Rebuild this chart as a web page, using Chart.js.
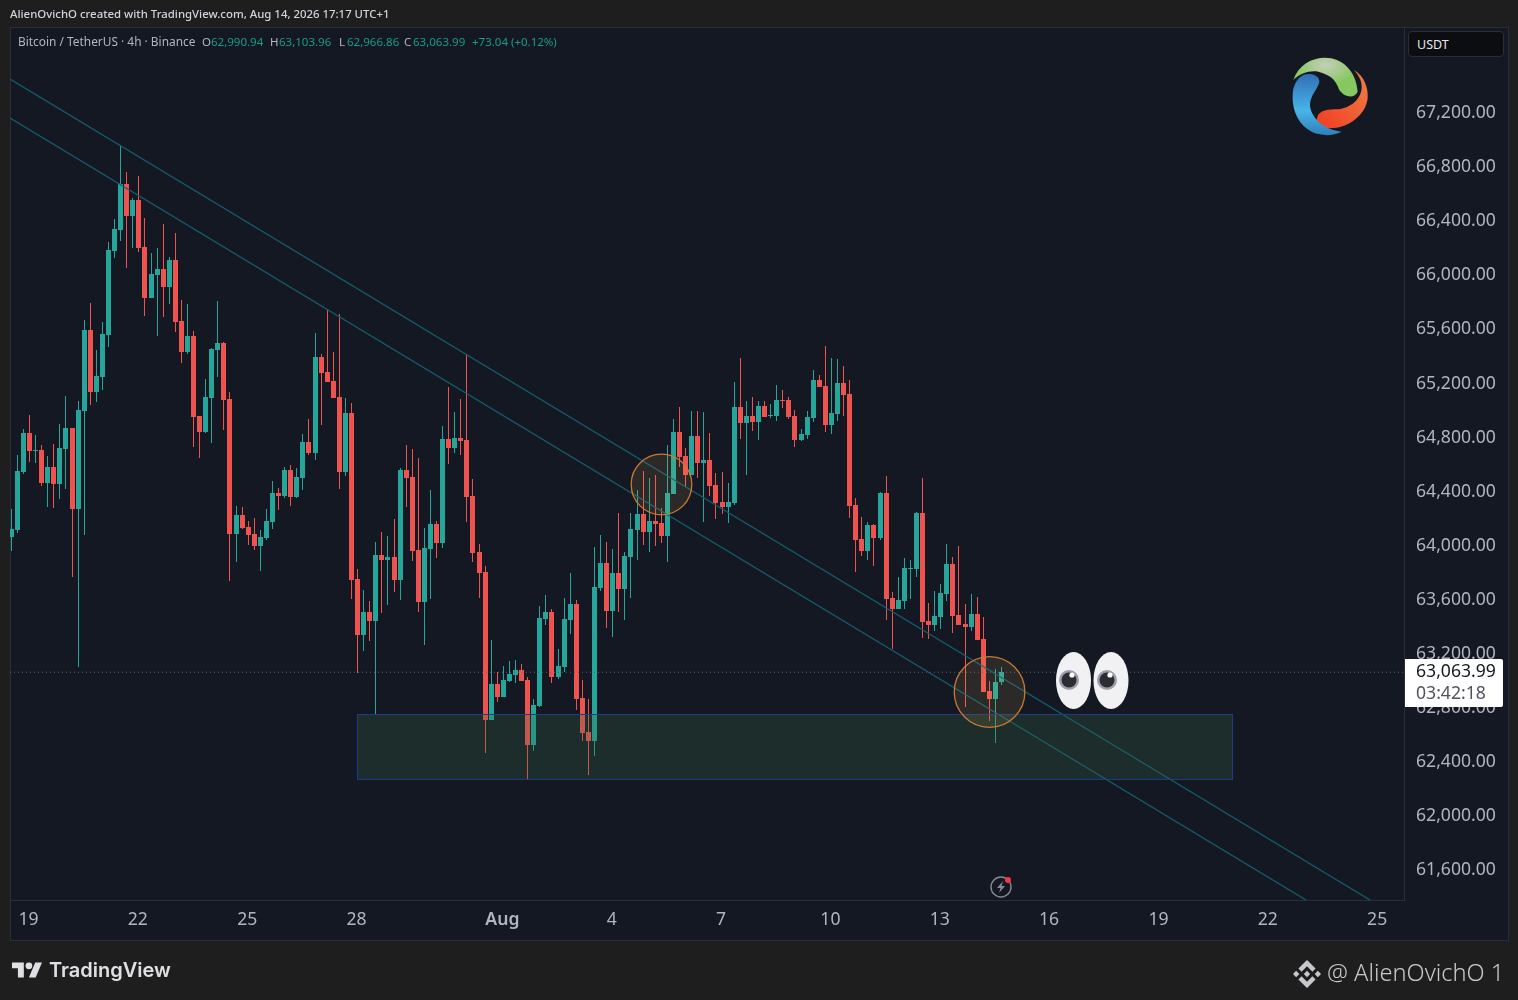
<!DOCTYPE html>
<html lang="en">
<head>
<meta charset="UTF-8">
<title>Bitcoin / TetherUS 4h</title>
<script src="https://cdn.jsdelivr.net/npm/chart.js"></script>
<style>
    html, body { margin: 0; padding: 0; background: #1e1e1e; width: 1518px; height: 1000px; overflow: hidden; }
    body { position: relative; font-family: "Noto Sans", sans-serif; }
    #pane { position: absolute; left: 10px; top: 27px; width: 1497px; height: 912px; background: #141823; border: 1px solid #2a2e39; }
    canvas { position: absolute; left: 0; top: 0; }
    .t { position: absolute; white-space: nowrap; line-height: 1; }
    .gray { color: #b2b5be; }
    .teal { color: #1a9c8a; }
    svg.ov { position: absolute; }
</style>
</head>
<body>
<div id="pane"></div>
<canvas id="chart" width="1518" height="1000"></canvas>

<div class="t" style="left:10px;top:8px;font-size:11.4px;font-weight:500;color:#d1d4dc">AlienOvichO created with TradingView.com, Aug 14, 2026 17:17 UTC+1</div>

<div class="t gray" style="left:18px;top:36px;font-size:11.9px">Bitcoin / TetherUS · 4h · Binance</div>
<div class="t gray" style="left:202px;top:36px;font-size:11.5px">O</div>
<div class="t teal" style="left:211px;top:36px;font-size:11.5px">62,990.94</div>
<div class="t gray" style="left:270px;top:36px;font-size:11.5px">H</div>
<div class="t teal" style="left:279px;top:36px;font-size:11.5px">63,103.96</div>
<div class="t gray" style="left:339px;top:36px;font-size:11.5px">L</div>
<div class="t teal" style="left:347px;top:36px;font-size:11.5px">62,966.86</div>
<div class="t gray" style="left:404px;top:36px;font-size:11.5px">C</div>
<div class="t teal" style="left:413px;top:36px;font-size:11.5px">63,063.99</div>
<div class="t teal" style="left:472px;top:36px;font-size:11.5px">+73.04 (+0.12%)</div>

<div style="position:absolute;left:1408px;top:31px;width:94px;height:24px;background:#0c0d10;border:1px solid #2a2e39;border-radius:4px"></div>
<div class="t" style="left:1417px;top:39px;font-size:12.5px;color:#e6e7ea">USDT</div>

<div style="position:absolute;left:1405px;top:659px;width:98px;height:48px;background:#fff;border-radius:0 2px 2px 0"></div>
<div class="t" style="left:1416px;top:662px;font-size:17.6px;color:#131722">63,063.99</div>
<div class="t" style="left:1416px;top:684px;font-size:17.6px;color:#50535e">03:42:18</div>

<!-- logo -->
<svg class="ov" style="left:1280px;top:20px" width="238" height="130" viewBox="0 0 714 390">
    <defs>
        <linearGradient id="gOr" x1="0" y1="1" x2="1" y2="0"><stop offset="0" stop-color="#f23c20"/><stop offset="1" stop-color="#ee8048"/></linearGradient>
        <linearGradient id="gBl" x1="0" y1="0" x2="0" y2="1"><stop offset="0" stop-color="#2f6fb8"/><stop offset="0.6" stop-color="#49b4e6"/><stop offset="1" stop-color="#2f7fb8"/></linearGradient>
        <radialGradient id="gGr" cx="0.5" cy="0.2" r="0.5"><stop offset="0" stop-color="#c4cfb8"/><stop offset="1" stop-color="#86c860"/></radialGradient>
    </defs>
    <path fill="url(#gGr)" d="M40 180 C55 135 95 113 135 113 C185 113 228 150 233 215 C225 235 195 235 178 210 C165 175 150 165 115 155 C90 150 60 160 40 180Z"/>
    <path fill="url(#gOr)" d="M222 150 C255 170 265 205 263 235 C258 285 205 325 150 325 C125 325 105 310 112 290 C120 270 145 268 175 268 C215 262 245 235 245 200 C245 180 235 165 222 150Z"/>
    <path fill="url(#gBl)" d="M70 165 C90 158 118 165 118 185 C115 205 90 225 90 255 C92 295 135 330 185 335 C165 345 140 348 120 343 C70 335 35 285 38 225 C38 200 50 175 70 165Z"/>
</svg>

<!-- eyes -->
<svg class="ov" style="left:1050px;top:645px" width="85" height="70" viewBox="1050 645 85 70">
    <ellipse cx="1073.5" cy="680.5" rx="17.5" ry="28.5" fill="#f1f1f4"/>
    <ellipse cx="1111" cy="680.5" rx="17.5" ry="28.5" fill="#f1f1f4"/>
    <circle cx="1069" cy="680" r="10" fill="#9c9cab"/>
    <circle cx="1069" cy="680" r="7.5" fill="#2b2d33"/>
    <circle cx="1072" cy="675" r="2.6" fill="#fff"/>
    <circle cx="1107" cy="680" r="10" fill="#9c9cab"/>
    <circle cx="1107" cy="680" r="7.5" fill="#2b2d33"/>
    <circle cx="1110" cy="675" r="2.6" fill="#fff"/>
</svg>

<!-- lightning badge -->
<svg class="ov" style="left:985px;top:872px" width="30" height="30" viewBox="985 872 30 30">
    <circle cx="1001" cy="887" r="10" fill="none" stroke="#868993" stroke-width="1.4"/>
    <path d="M1003 881 L997 888 L1000.5 888 L999 893 L1005 886 L1001.5 886 Z" fill="#868993"/>
    <circle cx="1008" cy="880" r="3" fill="#f23645"/>
</svg>

<!-- footer -->
<svg class="ov" style="left:12px;top:958.6px" width="30" height="23.7" viewBox="0 0 35.5 28">
    <path fill="#e0e0e4" d="M14 22H7V11H0V4h14v18zM28 22h-8l7.5-18h8L28 22z"/>
    <circle cx="20" cy="8" r="4" fill="#e0e0e4"/>
</svg>
<div class="t" style="left:49px;top:960px;font-family:Inter,sans-serif;font-size:20px;font-weight:600;color:#e0e0e4">TradingView</div>

<svg class="ov" style="left:1293px;top:960px" width="28" height="28" viewBox="0 0 32 32">
    <path fill="#c8c8cc" d="M9.8 13.4 16 7.2l6.2 6.2 3.6-3.6L16 0 6.2 9.8zM0 16l3.6-3.6L7.2 16l-3.6 3.6zM9.8 18.6 16 24.8l6.2-6.2 3.6 3.6L16 32l-9.8-9.8zM24.8 16l3.6-3.6L32 16l-3.6 3.6zM19.6 16 16 12.4 12.4 16 16 19.6z"/>
</svg>
<div class="t" style="left:1327px;top:961px;font-size:23.6px;font-weight:300;color:#c8c8cc">@ AlienOvichO 1</div>

<script>
// 4h candles
const opens = [
    64064,64116,64545,64834,64701,64708,64464,64582,64456,64715,
    64871,64271,64997,65596,65137,65248,65559,66181,66336,66675,
    66440,66558,66210,65833,66003,66047,65914,66114,65663,65433,
    65552,64960,64841,65093,65448,65500,65085,64086,64227,64138,
    64086,63998,64057,64175,64390,64368,64560,64361,64501,64767,
    64686,65396,65285,65219,65100,64545,64982,63753,63340,63510,
    63443,63931,63894,63916,63746,64560,64508,63968,63583,63975,
    64160,64020,64789,64723,64797,64782,64368,63953,63806,62711,
    62978,62881,63000,63044,63081,63007,62526,62815,63458,63510,
    63029,63103,63451,63569,62874,62622,62555,63687,63872,63517,
    63798,63680,63916,64116,64234,64101,64183,64168,64072,64382,
    64841,64664,64523,64812,64612,64634,64449,64323,64286,64316,
    65026,64908,64960,64915,65034,64960,64960,65078,65078,64960,
    64782,64819,64945,65226,65181,64893,64975,65204,65122,64301,
    64049,63961,64153,64057,64390,63613,63532,63591,63828,63828,
    64242,63443,63414,63473,63643,63865,63487,63421,63399,63495,
    63310,62925,62866,62990.94
];
const closes = [
    64123,64553,64834,64701,64708,64464,64582,64456,64723,64871,
    64271,65004,65596,65137,65256,65566,66188,66343,66675,66440,
    66558,66203,65833,66010,66047,65914,66114,65655,65433,65552,
    64952,64841,65100,65456,65500,65078,64086,64227,64131,64079,
    63998,64064,64183,64390,64368,64560,64361,64508,64767,64686,
    65396,65278,65211,65093,64545,64982,63746,63340,63510,63443,
    63931,63894,63916,63746,64560,64501,63961,63583,63983,64160,
    64020,64789,64723,64797,64775,64361,63946,63798,62711,62978,
    62881,63007,63051,63081,63000,62526,62822,63465,63510,63029,
    63111,63458,63569,62866,62615,62555,63694,63872,63517,63798,
    63680,63924,64123,64234,64101,64183,64160,64072,64390,64841,
    64656,64523,64812,64612,64634,64442,64316,64286,64323,65026,
    64908,64960,64915,65034,64952,64967,65078,65071,64952,64782,
    64826,64952,65226,65174,64893,64982,65204,65115,64294,64042,
    63961,64153,64057,64390,63605,63532,63598,63835,63835,64242,
    63436,63414,63480,63650,63865,63480,63414,63399,63495,63303,
    62918,62866,62992,63063.99
];
const highs = [
    64271,64671,64863,64967,64819,64745,64664,64752,64900,65108,
    64871,65071,65670,65796,65448,65655,66247,66417,66957,66764,
    66572,66735,66425,66166,66203,66380,66136,66314,65818,65788,
    65589,64960,65233,65463,65811,65507,65137,64294,64286,64183,
    64205,64116,64271,64479,64427,64582,64597,64575,64826,64937,
    65574,65418,65744,65433,65715,65093,65056,63827,63672,63591,
    64027,64101,64072,64197,64575,64745,64715,64649,64131,64412,
    64183,64886,65174,64989,65085,65411,64493,64013,63850,63303,
    63066,63110,63147,63155,63125,63029,62866,63554,63635,63532,
    63236,63613,63798,63598,63007,62866,63990,64079,64027,63975,
    64242,63953,64242,64412,64553,64501,64523,64279,64745,64937,
    65026,64723,64997,64997,64989,64834,64538,64545,64464,65211,
    65389,65071,65100,65071,65071,65048,65189,65152,65100,65004,
    64864,64997,65300,65263,65478,65389,65381,65329,65226,64353,
    64212,64175,64160,64397,64516,63657,63768,63909,63894,64249,
    64501,63576,63665,63717,64013,63917,63998,63569,63643,63621,
    63473,63000,63088,63103.96
];
const lows = [
    63961,64094,64530,64619,64612,64442,64286,64279,64345,64419,
    63768,63103,64079,65041,65063,65152,65470,66129,66255,66055,
    66203,66173,65700,65833,65552,65692,65788,65581,65352,65418,
    64730,64649,64834,64760,65248,64856,63739,63879,64123,64005,
    63968,63813,64042,64123,64264,64353,64294,64353,64412,64671,
    64634,64893,65211,65093,64419,64516,63605,63059,63222,63296,
    62748,63503,63561,63657,63598,64286,63887,63510,63266,63605,
    63909,63983,64605,64686,64671,64175,63879,63613,62467,62711,
    62844,62881,62992,62985,63000,62274,62481,62807,63414,62985,
    63014,63066,63347,62785,62555,62304,62444,63665,63392,63325,
    63510,63451,63613,63894,64005,63953,63998,64020,63879,64382,
    64582,64442,64523,64501,64175,64368,64197,64234,64168,64301,
    64789,64523,64849,64782,64952,64945,64923,65019,64937,64730,
    64775,64789,64915,65174,64841,64826,64923,64960,64205,63805,
    63924,63894,63850,64042,63451,63236,63532,63532,63605,63768,
    63318,63310,63369,63384,63591,63354,63414,62807,63369,63303,
    62918,62703,62541,62966.86
];

// time axis: candle index of each date label
const dateTicks = [3, 21, 39, 57, 81, 99, 117, 135, 153, 171, 189, 207, 225];
const dateLabels = ['19', '22', '25', '28', 'Aug', '4', '7', '10', '13', '16', '19', '22', '25'];
const priceStep = 400;
const priceTickMin = 61600;
const priceTickMax = 67200;

// drawings, in candle index / price
const lastPrice = 63063.99;
const upperLine = [{x: -0.21, y: 67453}, {x: 223.66, y: 61379}];
const lowerLine = [{x: -0.21, y: 67164}, {x: 213.12, y: 61379}];
const zoneX = [56.9, 200.9];
const zoneY = [62755, 62274];
const circles = [{x: 107.03, y: 64453, r: 30.3}, {x: 161.03, y: 62918, r: 35.3}];

const UP = '#26a69a';
const DOWN = '#ef5350';
const candleColors = closes.map((c, i) => c >= opens[i] ? UP : DOWN);

// pixel snap the bars so the candles stay crisp
const snapBars = {
    id: 'snapBars',
    beforeDatasetsDraw(chart) {
        chart.data.datasets.forEach((ds, n) => {
            if (ds.type !== 'bar') return;
            chart.getDatasetMeta(n).data.forEach(el => {
                el.x = Math.floor(el.x) + 0.5;
                el.y = Math.round(el.y);
                el.base = Math.round(el.base);
            });
        });
    }
};

// rectangle and circles over the candles
const drawings = {
    id: 'drawings',
    afterDatasetsDraw(chart) {
        const ctx = chart.ctx, xs = chart.scales.x, ys = chart.scales.y;
        ctx.save();
        const zx = Math.round(xs.getPixelForValue(zoneX[0])) + 0.5;
        const zx2 = Math.round(xs.getPixelForValue(zoneX[1])) + 0.5;
        const zy = Math.round(ys.getPixelForValue(zoneY[0])) + 0.5;
        const zy2 = Math.round(ys.getPixelForValue(zoneY[1])) + 0.5;
        ctx.fillStyle = 'rgba(56,108,67,0.25)';
        ctx.fillRect(zx, zy, zx2 - zx, zy2 - zy);
        ctx.strokeStyle = '#1e3a8a';
        ctx.lineWidth = 1;
        ctx.strokeRect(zx, zy, zx2 - zx, zy2 - zy);
        circles.forEach(c => {
            ctx.beginPath();
            ctx.arc(xs.getPixelForValue(c.x), ys.getPixelForValue(c.y), c.r, 0, Math.PI * 2);
            ctx.fillStyle = 'rgba(240,190,90,0.11)';
            ctx.fill();
            ctx.strokeStyle = '#c87a32';
            ctx.lineWidth = 1.3;
            ctx.stroke();
        });
        ctx.restore();
    }
};

new Chart(document.getElementById('chart'), {
    type: 'bar',
    data: {
        datasets: [
            {
                type: 'bar',
                data: highs.map((h, i) => ({x: i, y: [lows[i], h]})),
                backgroundColor: candleColors,
                barThickness: 1,
                inflateAmount: 0,
                grouped: false,
                order: 4
            },
            {
                type: 'bar',
                data: opens.map((o, i) => ({x: i, y: [o, closes[i]]})),
                backgroundColor: candleColors,
                barThickness: 5,
                inflateAmount: 0,
                grouped: false,
                order: 3
            },
            {
                type: 'line',
                data: [{x: -0.21, y: lastPrice}, {x: 229.25, y: lastPrice}],
                borderColor: '#5d606b',
                borderWidth: 1,
                borderDash: [1, 3],
                pointRadius: 0,
                order: 2
            },
            {
                type: 'line',
                data: upperLine,
                borderColor: '#135f70',
                borderWidth: 1.2,
                pointRadius: 0,
                order: 1
            },
            {
                type: 'line',
                data: lowerLine,
                borderColor: '#135f70',
                borderWidth: 1.2,
                pointRadius: 0,
                order: 1
            }
        ]
    },
    plugins: [snapBars, drawings],
    options: {
        responsive: false,
        animation: false,
        devicePixelRatio: 1,
        layout: {padding: {left: 10, right: 10, top: 28, bottom: 60}},
        plugins: {legend: {display: false}, tooltip: {enabled: false}},
        scales: {
            x: {
                type: 'linear',
                offset: false,
                min: -0.21,
                max: 229.25,
                grid: {display: false, drawTicks: false},
                border: {display: true, color: '#2a2e39'},
                afterBuildTicks(scale) {
                    scale.ticks = dateTicks.map(v => ({value: v}));
                },
                afterFit(scale) {
                    scale.height = 40;
                },
                ticks: {
                    autoSkip: false,
                    maxRotation: 0,
                    padding: 9,
                    labelOffset: -1,
                    color: '#b2b5be',
                    font: ctx => ({family: 'Noto Sans', size: 17.6, weight: ctx.tick && ctx.tick.value === 81 ? '600' : '400'}),
                    callback: v => dateLabels[dateTicks.indexOf(v)]
                }
            },
            y: {
                position: 'right',
                min: 61379.2,
                max: 67829.9,
                grid: {display: false, drawTicks: false},
                border: {display: true, color: '#2a2e39'},
                afterBuildTicks(scale) {
                    const t = [];
                    for (let v = priceTickMin; v <= priceTickMax; v += priceStep) t.push({value: v});
                    scale.ticks = t;
                },
                afterFit(scale) {
                    scale.width = 104;
                },
                ticks: {
                    autoSkip: false,
                    padding: 12,
                    color: '#b2b5be',
                    font: {family: 'Noto Sans', size: 17.6},
                    callback: v => v.toLocaleString('en-US', {minimumFractionDigits: 2, maximumFractionDigits: 2})
                }
            }
        }
    }
});
</script>
</body>
</html>
